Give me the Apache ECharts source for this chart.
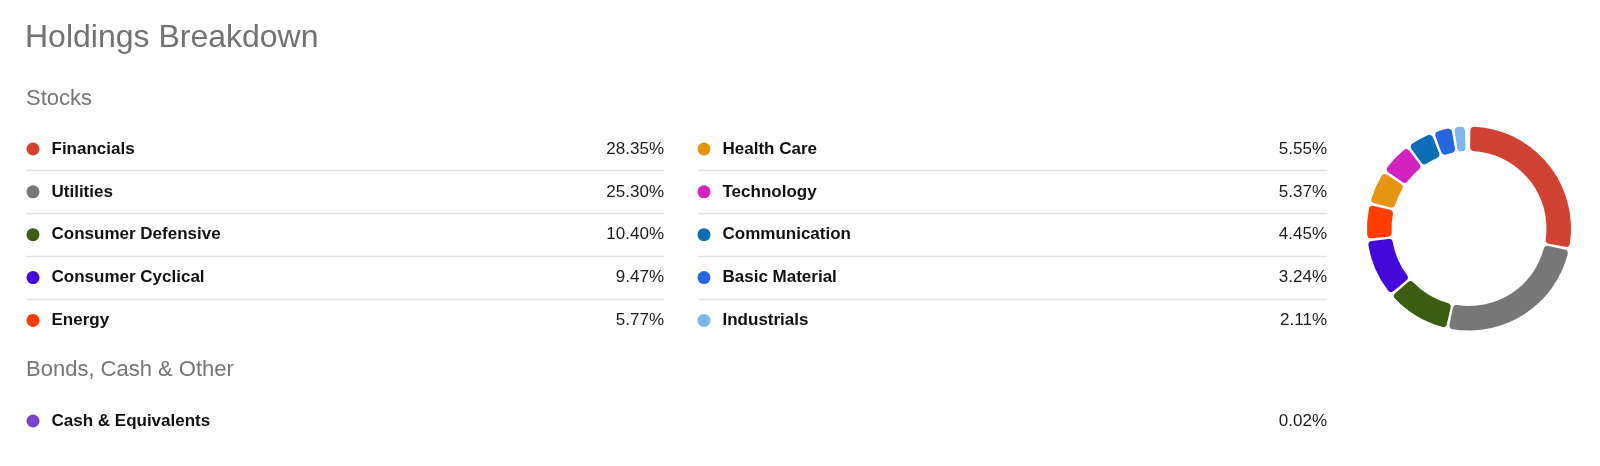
<!DOCTYPE html>
<html>
<head>
<meta charset="utf-8">
<script src="https://cdn.jsdelivr.net/npm/echarts@6/dist/echarts.min.js"></script>
<style>
html,body{margin:0;padding:0;background:#fff;}
#chart{width:1600px;height:466px;}
</style>
</head>
<body>
<div id="chart"></div>
<script>
// ---- data ----
const titleText = 'Holdings Breakdown';
const stockHeading = 'Stocks';
const otherHeading = 'Bonds, Cash & Other';
const sectors = ['Financials','Utilities','Consumer Defensive','Consumer Cyclical','Energy','Health Care','Technology','Communication','Basic Material','Industrials'];
const sectorValues = [28.35, 25.30, 10.40, 9.47, 5.77, 5.55, 5.37, 4.45, 3.24, 2.11];
const sectorColors = ['#d04232','#777777','#3b5e12','#4409d8','#ff3d00','#e69512','#d222c0','#0a6fb5','#2766de','#7eb6ee'];
const otherNames = ['Cash & Equivalents'];
const otherValues = [0.02];
const otherColors = ['#7a44c9'];

// ---- layout ----
const FONT = '"Liberation Sans", Helvetica, Arial, sans-serif';
const rowY0 = 149, rowGap = 42.85, perCol = 5;
const cols = [
  {dot: 33, label: 51.5, valRight: 664, lineL: 26, lineR: 664},
  {dot: 704, label: 722.5, valRight: 1327, lineL: 698, lineR: 1327}
];
const fmt = v => v.toFixed(2) + '%';

const g = [];
function txt(x, y, text, font, fill, align) {
  g.push({type: 'text', silent: true, style: {x: x, y: y, text: text, font: font, fill: fill,
    textAlign: align || 'left', align: align || 'left', textVerticalAlign: 'middle', verticalAlign: 'middle'}});
}
function row(col, y, name, value, color) {
  g.push({type: 'circle', silent: true, shape: {cx: col.dot, cy: y, r: 6.5}, style: {fill: color}});
  txt(col.label, y, name, 'bold 17px ' + FONT, '#111111', 'left');
  txt(col.valRight, y, fmt(value), '17px ' + FONT, '#1c1c1c', 'right');
}

txt(25, 38.5, titleText, '32px ' + FONT, '#727272');
txt(26, 98.5, stockHeading, '22px ' + FONT, '#767676');
sectors.forEach((name, i) => {
  const col = cols[Math.floor(i / perCol)];
  const r = i % perCol;
  const y = rowY0 + r * rowGap;
  row(col, y, name, sectorValues[i], sectorColors[i]);
  if (r < perCol - 1) {
    const ly = Math.round(y + rowGap / 2) + 0.5;
    g.push({type: 'line', silent: true, shape: {x1: col.lineL, y1: ly, x2: col.lineR, y2: ly},
      style: {stroke: '#e2e2e2', lineWidth: 1.6}});
  }
});
txt(26, 370, otherHeading, '22px ' + FONT, '#767676');
otherNames.forEach((name, i) => {
  row({dot: 33, label: 51.5, valRight: 1327}, 421 + i * rowGap, name, otherValues[i], otherColors[i]);
});

const pieData = sectors.map((n, i) => ({name: n, value: sectorValues[i], itemStyle: {color: sectorColors[i]}}))
  .concat(otherNames.map((n, i) => ({name: n, value: otherValues[i], itemStyle: {color: otherColors[i]}})));

const chart = echarts.init(document.getElementById('chart'), null, {renderer: 'canvas'});
chart.setOption({
  animation: false,
  backgroundColor: '#ffffff',
  graphic: {elements: g},
  series: [{
    type: 'pie',
    center: [1469, 228.5],
    radius: [77.5, 102],
    startAngle: 90,
    clockwise: true,
    padAngle: 1.6,
    avoidLabelOverlap: false,
    label: {show: false},
    labelLine: {show: false},
    emphasis: {disabled: true},
    itemStyle: {borderWidth: 0, borderRadius: 4},
    data: pieData
  }]
});
</script>
</body>
</html>
